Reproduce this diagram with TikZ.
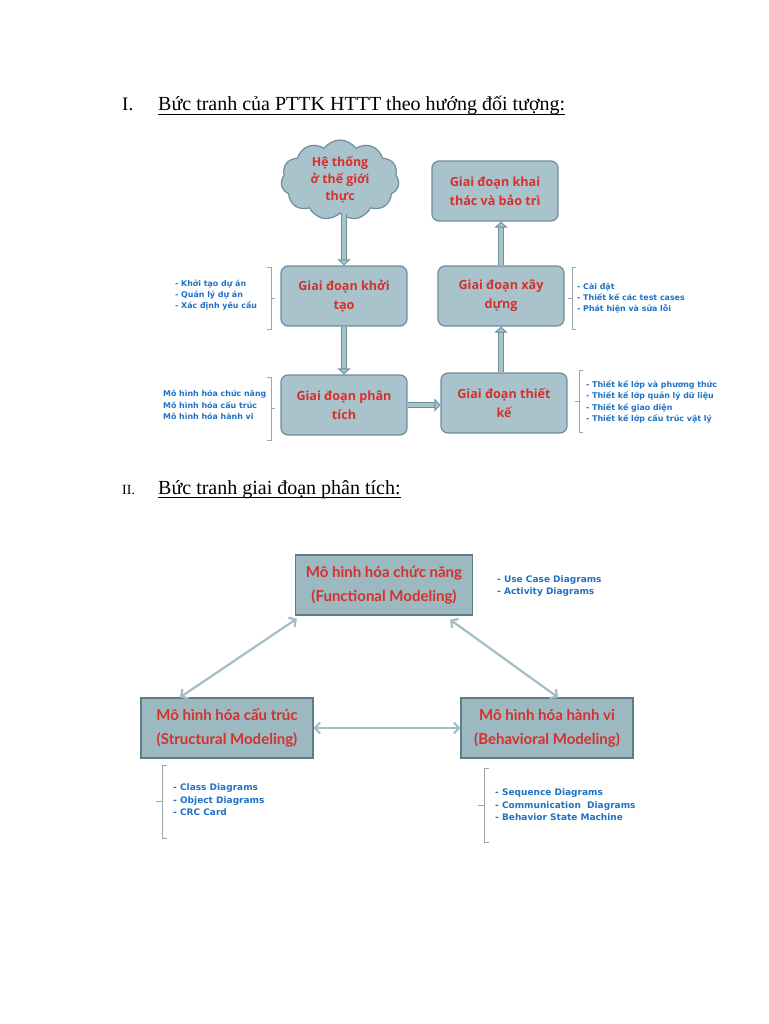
\documentclass[tikz,border=0pt]{standalone}
\usepackage{fontspec}
\setmainfont{Liberation Serif}
\newfontfamily\stagefont{Open Sans}
\newfontfamily\modelfont{Lato}
\newfontfamily\notefont{DejaVu Sans}
\usetikzlibrary{shapes.symbols,arrows.meta}
\definecolor{stagefill}{HTML}{A8C3CC}
\definecolor{stageedge}{HTML}{6F8E9B}
\definecolor{modelfill}{HTML}{9CB8C0}
\definecolor{modeledge}{HTML}{5E7D87}
\definecolor{redtxt}{HTML}{D6302B}
\definecolor{bluetxt}{HTML}{1F72C4}
\definecolor{linkcol}{HTML}{A4BEC7}
\definecolor{bracecol}{HTML}{9AA8AD}
\tikzset{
  stagebox/.style={draw=stageedge, fill=stagefill, line width=1.2pt, rounded corners=7pt,
    minimum width=126, minimum height=60, align=center, text=redtxt,
    font=\stagefont\fontsize{12.6}{19}\selectfont},
  modelbox/.style={draw=modeledge, fill=modelfill, line width=1.2pt,
    minimum width=172, minimum height=60, align=center, text=redtxt,
    font=\modelfont\bfseries\fontsize{15}{24}\selectfont},
  notes/.style={anchor=west, align=left, inner sep=0pt, text=bluetxt,
    font=\notefont\bfseries\fontsize{7.9}{11.3}\selectfont},
  bignotes/.style={notes, font=\notefont\bfseries\fontsize{9}{12.5}\selectfont},
  blockarrow/.style={draw=stageedge, line width=0.9pt, double=stagefill, double distance=4.6pt,
    -{Triangle[length=6pt,width=13pt,fill=stagefill]}},
  linkarrow/.style={draw=linkcol, line width=2.2pt, {Straight Barb[length=5pt,width=11pt]}-{Straight Barb[length=5pt,width=11pt]}},
  bracket/.style={draw=bracecol, line width=0.9pt},
  heading/.style={anchor=base west, inner sep=0pt, font=\fontsize{20}{22}\selectfont}
}
\begin{document}
\begin{tikzpicture}[x=1pt,y=-1pt]
\useasboundingbox[fill=white] (0,0) rectangle (768,1024);
% headings
\node [heading, font=\fontsize{19}{22}\selectfont] (num1) at (122,111) {I.};
\node [heading] (head1) at (158,111) {Bức tranh của PTTK HTTT theo hướng đối tượng:};
\draw ([yshift=-2.8pt]head1.base west) -- ([yshift=-2.8pt]head1.base east);
\node [heading, font=\fontsize{14}{15}\selectfont] (num2) at (122,494) {II.};
\node [heading] (head2) at (158,494) {Bức tranh giai đoạn phân tích:};
\draw ([yshift=-2.8pt]head2.base west) -- ([yshift=-2.8pt]head2.base east);
% part I
\node [cloud, cloud puffs=11, cloud puff arc=110, aspect=1.4, draw=stageedge, fill=stagefill,
  line width=1.2pt, minimum width=118, minimum height=80, inner sep=0pt, align=center,
  text=redtxt, font=\stagefont\bfseries\fontsize{12.4}{17}\selectfont] (cloud) at (340,180) {Hệ thống\\ở thế giới\\thực};
\node [stagebox, font=\stagefont\bfseries\fontsize{12.6}{19}\selectfont] (khoitao) at (344,296) {Giai đoạn khởi\\tạo};
\node [stagebox, font=\stagefont\bfseries\fontsize{12.6}{19}\selectfont] (phantich) at (344,405) {Giai đoạn phân\\tích};
\node [stagebox, font=\stagefont\bfseries\fontsize{12.6}{19}\selectfont] (thietke) at (504,403) {Giai đoạn thiết\\kế};
\node [stagebox, font=\stagefont\bfseries\fontsize{12.6}{19}\selectfont] (xaydung) at (501,296) {Giai đoạn xây\\dựng};
\node [stagebox, font=\stagefont\bfseries\fontsize{12.6}{19}\selectfont] (khaithac) at (495,191) {Giai đoạn khai\\thác và bảo trì};
\draw [blockarrow] (cloud.south -| khoitao.north) -- (khoitao.north);
\draw [blockarrow] (khoitao.south) -- (phantich.north);
\draw [blockarrow] (phantich.east) -- (phantich.east -| thietke.west);
\draw [blockarrow] (xaydung.south |- thietke.north) -- (xaydung.south);
\draw [blockarrow] (xaydung.north) -- (xaydung.north |- khaithac.south);
\node [notes] (khoitaonotes) at (175,295) {- Khởi tạo dự án\\- Quản lý dự án\\- Xác định yêu cầu};
\node [notes] (phantichnotes) at (163,405) {Mô hình hóa chức năng\\Mô hình hóa cấu trúc\\Mô hình hóa hành vi};
\node [notes] (xaydungnotes) at (577,298) {- Cài đặt\\- Thiết kế các test cases\\- Phát hiện và sửa lỗi};
\node [notes] (thietkenotes) at (586,402) {- Thiết kế lớp và phương thức\\- Thiết kế lớp quản lý dữ liệu\\- Thiết kế giao diện\\- Thiết kế lớp cấu trúc vật lý};
\draw [bracket] (267,267) -- (271,267) -- (271,329) -- (267,329) (271,298) -- (275,298);
\draw [bracket] (267,377) -- (271,377) -- (271,440) -- (267,440) (271,408) -- (275,408);
\draw [bracket] (576,267) -- (572,267) -- (572,329) -- (576,329) (572,298) -- (568,298);
\draw [bracket] (583,370) -- (579,370) -- (579,432) -- (583,432) (579,401) -- (575,401);
% part II
\node [modelbox, minimum width=177] (func) at (384,585) {Mô hình hóa chức năng\\(Functional Modeling)};
\node [modelbox] (struc) at (227,728) {Mô hình hóa cấu trúc\\(Structural Modeling)};
\node [modelbox] (behav) at (547,728) {Mô hình hóa hành vi\\(Behavioral Modeling)};
\draw [linkarrow] (struc.east) -- (behav.west);
\draw [linkarrow] ([shift={(2,3)}]func.south west) -- ([xshift=-47pt]struc.north);
\draw [linkarrow] ([shift={(-23,4)}]func.south east) -- ([xshift=11pt]behav.north);
\node [bignotes] (funcnotes) at (497,586) {- Use Case Diagrams\\- Activity Diagrams};
\node [bignotes] (strucnotes) at (173,800) {- Class Diagrams\\- Object Diagrams\\- CRC Card};
\node [bignotes] (behavnotes) at (495,805) {- Sequence Diagrams\\- Communication~ Diagrams\\- Behavior State Machine};
\draw [bracket] (167,765) -- (162,765) -- (162,838) -- (167,838) (162,801) -- (156,801);
\draw [bracket] (489,768) -- (484,768) -- (484,842) -- (489,842) (484,805) -- (478,805);
\end{tikzpicture}
\end{document}
